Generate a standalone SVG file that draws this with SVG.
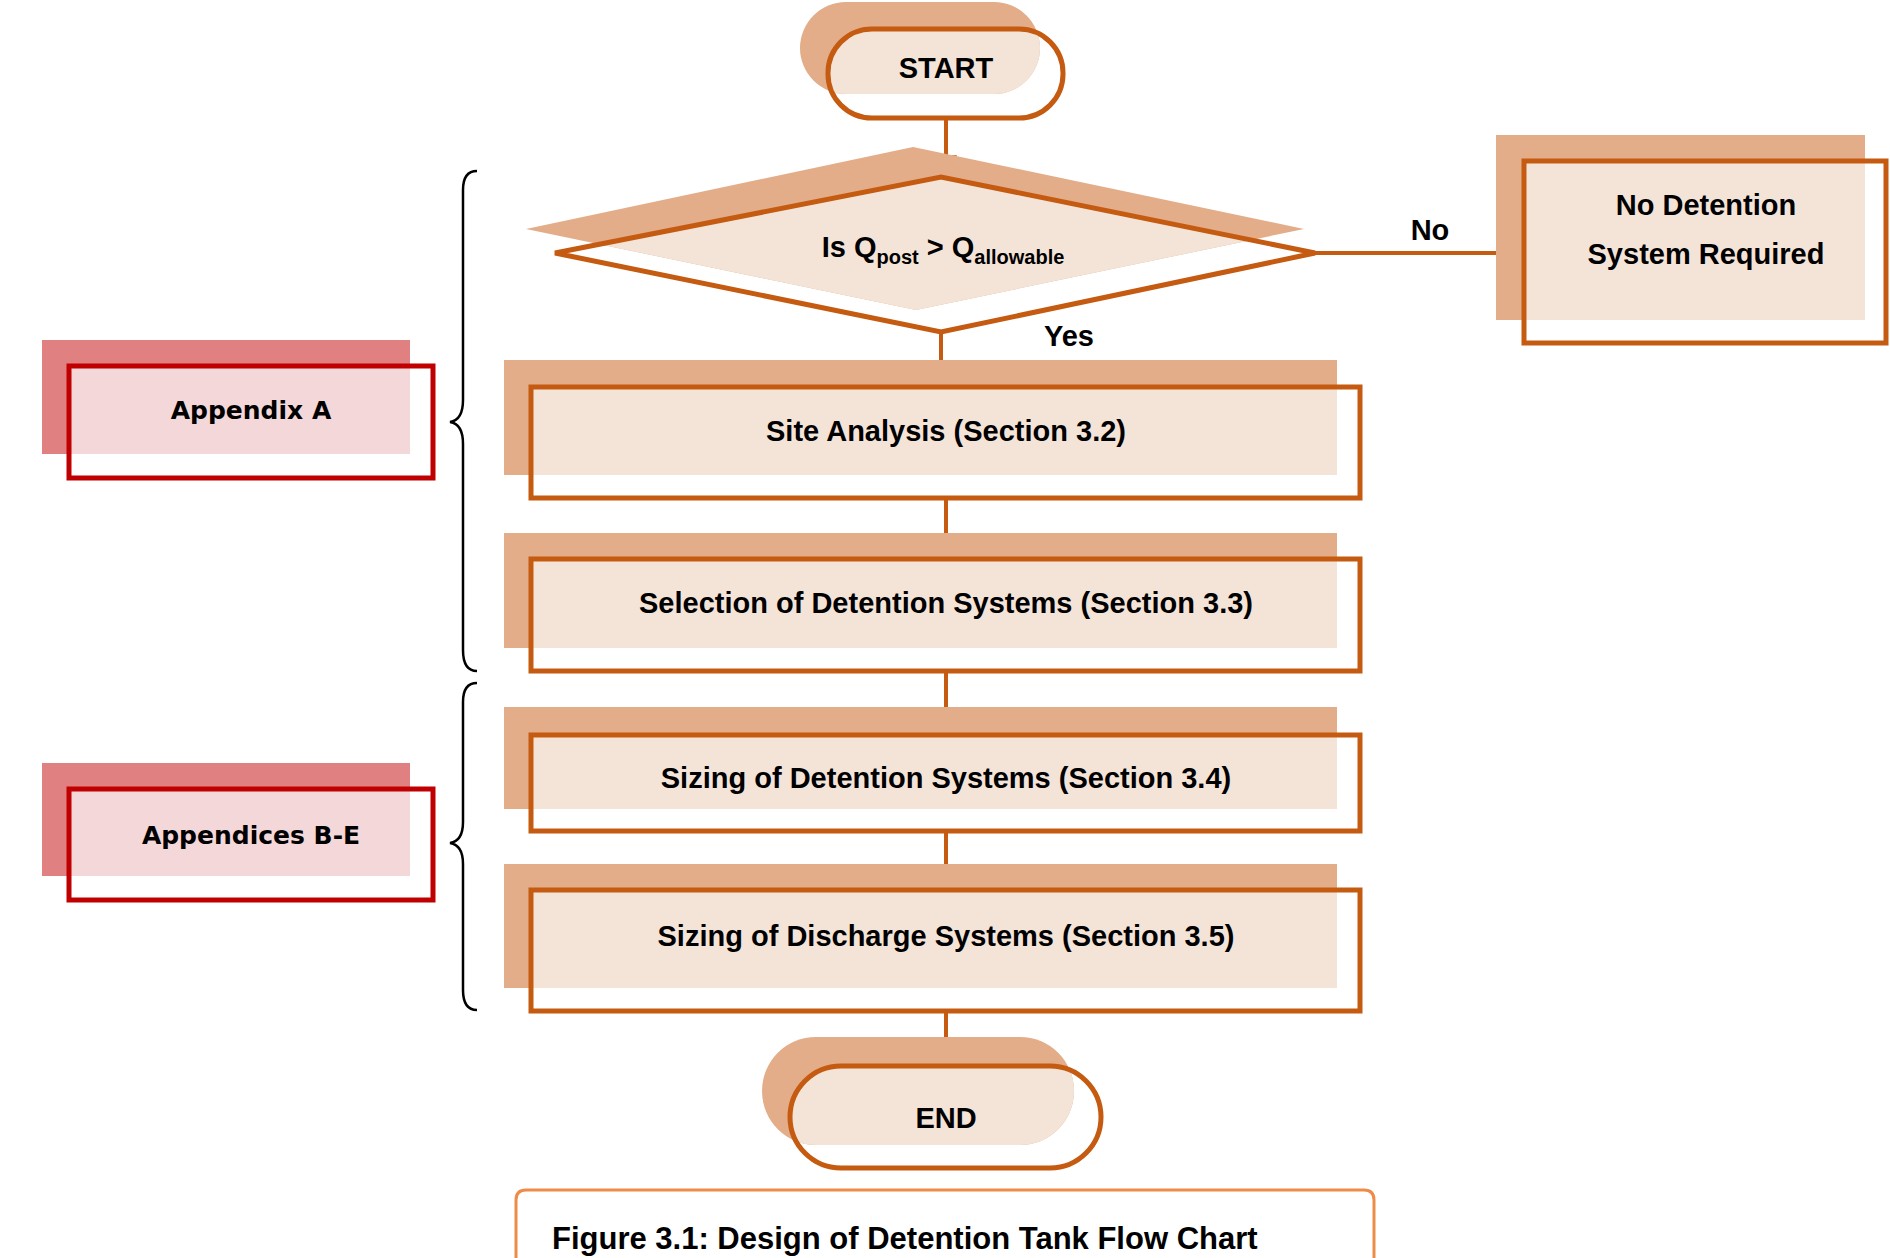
<svg xmlns="http://www.w3.org/2000/svg" width="1890" height="1258" viewBox="0 0 1890 1258">
<style>
.sh{fill:#e2ad88}.lt{fill:#f4e4d8}.ol{fill:none;stroke:#c55a11;stroke-width:5}
.rsh{fill:#e08080}.rlt{fill:#f4d7d9}.rol{fill:none;stroke:#c00000;stroke-width:5}
.t{font-family:"Liberation Sans",Arial,sans-serif;font-weight:bold;font-size:29px;fill:#000;text-anchor:middle}
.ta{font-family:"DejaVu Sans",Verdana,sans-serif;font-weight:bold;font-size:25px;fill:#000;text-anchor:middle}
.c{fill:none;stroke:#c55a11;stroke-width:4}
.br{fill:none;stroke:#000;stroke-width:2.5}
</style>
<defs>
<marker id="ah" markerWidth="8" markerHeight="8" refX="7" refY="4" orient="auto" markerUnits="userSpaceOnUse" viewBox="0 0 8 8"><path d="M0,0 L8,4 L0,8 z" fill="#c55a11"/></marker>
<marker id="a" viewBox="0 0 10 10" refX="9" refY="5" markerWidth="24" markerHeight="22" markerUnits="userSpaceOnUse" orient="auto"><path d="M0,0 L10,5 L0,10 z" fill="#c55a11"/></marker>
<clipPath id="cs"><rect x="828" y="29" width="235" height="89" rx="44"/></clipPath>
<clipPath id="cd"><polygon points="555,253 941,177 1315,253 941,332"/></clipPath>
<clipPath id="cn"><rect x="1524" y="161" width="364" height="182"/></clipPath>
<clipPath id="c1"><rect x="531" y="387" width="829" height="111"/></clipPath>
<clipPath id="c2"><rect x="531" y="559" width="829" height="112"/></clipPath>
<clipPath id="c3"><rect x="531" y="735" width="829" height="96"/></clipPath>
<clipPath id="c4"><rect x="531" y="890" width="829" height="121"/></clipPath>
<clipPath id="ce"><rect x="790" y="1066" width="311" height="102" rx="51"/></clipPath>
<clipPath id="ca"><rect x="69" y="366" width="364" height="112"/></clipPath>
<clipPath id="cb"><rect x="69" y="789" width="364" height="111"/></clipPath>
</defs>

<g id="connectors">
<line class="c" x1="946" y1="118" x2="946" y2="175" marker-end="url(#a)"/>
<line class="c" x1="1315" y1="253" x2="1521" y2="253" marker-end="url(#a)"/>
<line class="c" x1="941" y1="332" x2="941" y2="385" marker-end="url(#a)"/>
<line class="c" x1="946" y1="498" x2="946" y2="557" marker-end="url(#a)"/>
<line class="c" x1="946" y1="671" x2="946" y2="733" marker-end="url(#a)"/>
<line class="c" x1="946" y1="831" x2="946" y2="888" marker-end="url(#a)"/>
<line class="c" x1="946" y1="1011" x2="946" y2="1064" marker-end="url(#a)"/>
<text class="t" x="1430" y="240">No</text>
<text class="t" x="1069" y="346">Yes</text>
</g>

<g id="start">
<rect class="sh" x="800" y="2" width="240" height="92" rx="46"/>
<rect class="lt" x="800" y="2" width="240" height="92" rx="46" clip-path="url(#cs)"/>
<rect class="ol" x="828" y="29" width="235" height="89" rx="44"/>
<text class="t" x="946" y="78">START</text>
</g>

<g id="decision">
<polygon class="sh" points="526,229 913,147 1304,229 916,310"/>
<polygon class="lt" points="526,229 913,147 1304,229 916,310" clip-path="url(#cd)"/>
<polygon class="ol" points="555,253 941,177 1315,253 941,332"/>
<text class="t" x="943" y="257">Is Q<tspan font-size="20" dy="7">post</tspan><tspan dy="-7"> &gt; Q</tspan><tspan font-size="20" dy="7">allowable</tspan></text>
</g>

<g id="no-detention">
<rect class="sh" x="1496" y="135" width="369" height="185"/>
<rect class="lt" x="1496" y="135" width="369" height="185" clip-path="url(#cn)"/>
<rect class="ol" x="1524" y="161" width="362" height="182"/>
<text class="t" x="1706" y="215">No Detention</text>
<text class="t" x="1706" y="264">System Required</text>
</g>

<g id="site">
<rect class="sh" x="504" y="360" width="833" height="115"/>
<rect class="lt" x="504" y="360" width="833" height="115" clip-path="url(#c1)"/>
<rect class="ol" x="531" y="387" width="829" height="111"/>
<text class="t" x="946" y="441">Site Analysis (Section 3.2)</text>
</g>

<g id="selection">
<rect class="sh" x="504" y="533" width="833" height="115"/>
<rect class="lt" x="504" y="533" width="833" height="115" clip-path="url(#c2)"/>
<rect class="ol" x="531" y="559" width="829" height="112"/>
<text class="t" x="946" y="613">Selection of Detention Systems (Section 3.3)</text>
</g>

<g id="sizing-detention">
<rect class="sh" x="504" y="707" width="833" height="102"/>
<rect class="lt" x="504" y="707" width="833" height="102" clip-path="url(#c3)"/>
<rect class="ol" x="531" y="735" width="829" height="96"/>
<text class="t" x="946" y="788">Sizing of Detention Systems (Section 3.4)</text>
</g>

<g id="sizing-discharge">
<rect class="sh" x="504" y="864" width="833" height="124"/>
<rect class="lt" x="504" y="864" width="833" height="124" clip-path="url(#c4)"/>
<rect class="ol" x="531" y="890" width="829" height="121"/>
<text class="t" x="946" y="946">Sizing of Discharge Systems (Section 3.5)</text>
</g>

<g id="end">
<rect class="sh" x="762" y="1037" width="312" height="108" rx="54"/>
<rect class="lt" x="762" y="1037" width="312" height="108" rx="54" clip-path="url(#ce)"/>
<rect class="ol" x="790" y="1066" width="311" height="102" rx="51"/>
<text class="t" x="946" y="1128">END</text>
</g>

<g id="appendix-a">
<rect class="rsh" x="42" y="340" width="368" height="114"/>
<rect class="rlt" x="42" y="340" width="368" height="114" clip-path="url(#ca)"/>
<rect class="rol" x="69" y="366" width="364" height="112"/>
<text class="ta" x="251" y="419">Appendix A</text>
</g>

<g id="appendices-b-e">
<rect class="rsh" x="42" y="763" width="368" height="113"/>
<rect class="rlt" x="42" y="763" width="368" height="113" clip-path="url(#cb)"/>
<rect class="rol" x="69" y="789" width="364" height="111"/>
<text class="ta" x="251" y="844">Appendices B-E</text>
</g>

<g id="braces">
<path class="br" d="M477,171 Q463,171 463,190 L463,400 Q463,420 450,422 Q463,424 463,444 L463,650 Q463,671 477,671"/>
<path class="br" d="M477,683 Q463,683 463,702 L463,822 Q463,841 450,843 Q463,845 463,864 L463,990 Q463,1010 477,1010"/>
</g>

<g id="caption">
<path d="M516,1270 L516,1200 Q516,1190 526,1190 L1364,1190 Q1374,1190 1374,1200 L1374,1270" fill="none" stroke="#ed8b47" stroke-width="3"/>
<text x="552" y="1249" font-family="'Liberation Sans',Arial,sans-serif" font-weight="bold" font-size="31" fill="#000">Figure 3.1: Design of Detention Tank Flow Chart</text>
</g>
</svg>
